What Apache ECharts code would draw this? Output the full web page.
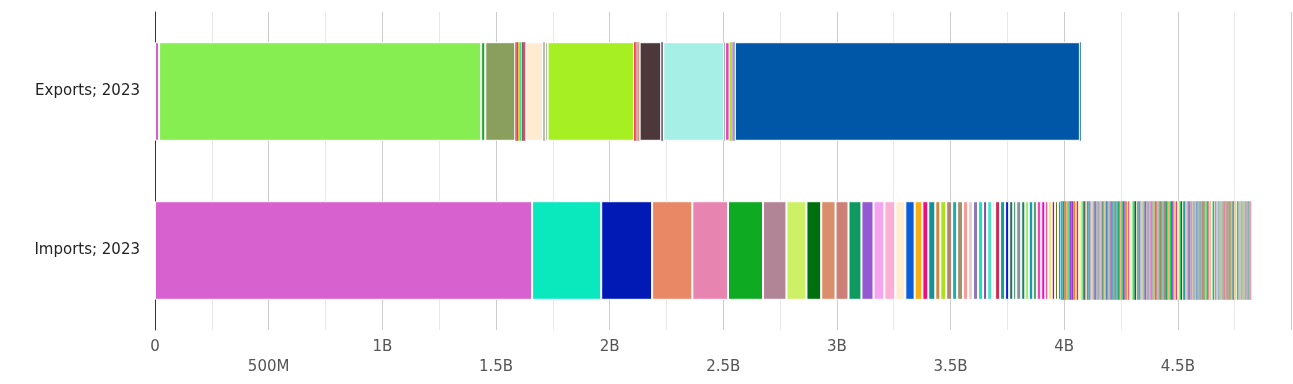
<!DOCTYPE html>
<html>
<head>
<meta charset="utf-8">
<script src="https://cdn.jsdelivr.net/npm/echarts@6/dist/echarts.min.js"></script>
<style>
  html, body { margin: 0; padding: 0; background: #fff; }
  #chart { width: 1293px; height: 384px; }
</style>
</head>
<body>
<div id="chart"></div>
<script>
// categories, top to bottom
var categories = ['Exports; 2023', 'Imports; 2023'];

// exports partners, in stacking order (millions USD)
var exportValues = [18, 1417, 18, 132, 4, 4, 4, 9, 4, 4, 9, 7, 77, 9, 11, 381, 7, 4, 4, 9, 95, 9, 268, 4, 20, 7, 9, 7, 1518, 4];
var exportColors = ['#d762cf', '#87ee52', '#11a71f', '#8a9e5e', '#5b8f97', '#d94a7a', '#2f6fd0', '#f9be27', '#19e0a5', '#f5e050',
  '#8b5d5d', '#d4506a', '#ffebd0', '#b8c2a8', '#777777', '#a6ef23', '#f0203c', '#e87aa0', '#999999', '#d0a080',
  '#4c373a', '#7a6a7a', '#a6efe7', '#a0a0a0', '#e045c0', '#a0e820', '#c5a4e8', '#8a8aa0', '#0057a8', '#1a7a7a'];

// imports partners, largest first (millions USD)
var importValues = [1659, 304, 224, 177, 157, 154, 103, 88, 65, 63, 57, 57, 53, 48, 48, 44, 41, 34, 26, 31,
  22, 26, 26, 22, 26, 22, 22, 22, 22, 18, 22, 13, 22, 22, 18, 18, 13, 22, 18, 15,
  20, 15, 20, 18, 13, 15, 15, 13, 11,
  9, 8, 9, 8, 7, 8, 8, 7, 7, 7, 7, 6, 7, 6, 6, 6, 7, 6, 6, 6, 6, 5, 6, 5, 5,
  7, 6, 6, 5, 7, 6, 5, 6, 6, 5, 7, 6, 6, 5, 6, 6, 5, 6, 7, 5, 6, 6, 5, 6, 6, 5, 6, 6, 5, 6,
  6, 5, 6, 5, 6, 6, 5, 6, 5, 6, 5, 6, 6, 5, 5, 6, 5, 6, 5, 6, 5, 5, 6, 5, 5, 6, 5, 5, 6, 5,
  5, 5, 4, 5, 4, 5, 4, 4, 5, 4, 4, 4, 5, 4, 4, 4, 4, 4, 4, 4, 4, 4, 3, 4, 4, 4, 3, 4, 4, 3,
  4, 3, 4, 3, 3, 4, 3, 3, 3, 4, 3, 3, 3, 3, 3, 3, 3, 3, 3, 3, 2, 3, 3, 2, 3, 3, 2, 3, 2, 3,
  4, 3, 3, 3, 3, 3, 3, 3, 3, 3, 3, 3, 3, 3, 2, 3, 2, 3, 2, 2, 2, 2, 2, 2, 2, 2, 2, 2, 2, 2,
  2, 2, 3, 2, 2, 2, 2, 2, 2, 2, 2, 2, 1, 2, 2, 1, 2, 1, 1, 1, 1, 1, 1, 1, 1, 1, 1, 1];
var importColors = ['#d762cf', '#0ae8be', '#011ab5', '#e88865', '#e884b0', '#0daa22', '#b28596', '#cdf066', '#006f0f', '#d98e6c',
  '#cc8078', '#0e9a60', '#9358d2', '#f5a5f0', '#fbafd5', '#ffecd1', '#0a5fd8', '#f9ae13', '#ee0d79', '#139196',
  '#d3843f', '#abe01f', '#ae8474', '#16aeae', '#9b946d', '#fb9a94', '#efcdca', '#8a76b9', '#0fe6c0', '#83509c',
  '#50e3c1', '#ffecd0', '#cf2b56', '#11a08b', '#0b1ecf', '#2d6e5c', '#137a55', '#8d919b', '#1a7e6d', '#7fe61d',
  '#1699ae', '#117b2e', '#f247ba', '#f00bc2', '#d7107c', '#ffd931', '#a40d89', '#5b6e0c', '#000000'];
// colours for the long tail of small partners
var tailColors = ['#1db1ef', '#19a85d', '#fd7b2f', '#f4a460', '#12e05a', '#a03ee0', '#8b3fd8', '#ff7f0e', '#f6e7c0', '#e3256b',
  '#fdf1c6', '#f5f5b8', '#7ef2a0', '#12c257', '#444444', '#f0e0c8', '#6b8fa8', '#20a5a0', '#c5b6d8', '#f7b6c8',
  '#a8c870', '#9090c0', '#2a9d8f', '#d8a0d0', '#7090a0', '#b0d070', '#e890e0', '#60a080', '#a0a0a0', '#d0c080',
  '#5080c0', '#e07070', '#80c0a0', '#c080c0', '#909060', '#40a0c0', '#88b088', '#b07070'];

function fmtAxis(v) {
  if (v === 0) return '0';
  if (v >= 1e9) return (v / 1e9) + 'B';
  return (v / 1e6) + 'M';
}

// white separators only where the segment is wide enough to keep its colour
function border(v) {
  return v >= 10 ? 1 : 0;
}

var series = [];
exportValues.forEach(function (v, i) {
  series.push({
    type: 'bar', stack: 'total', barCategoryGap: '38%',
    data: [v * 1e6, '-'],
    itemStyle: { color: exportColors[i], borderColor: '#fff', borderWidth: border(v) }
  });
});
importValues.forEach(function (v, i) {
  var c = i < importColors.length ? importColors[i] : tailColors[(i - importColors.length) % tailColors.length];
  series.push({
    type: 'bar', stack: 'total', barCategoryGap: '38%',
    data: ['-', v * 1e6],
    itemStyle: { color: c, borderColor: '#fff', borderWidth: border(v) }
  });
});

var chart = echarts.init(document.getElementById('chart'));
chart.setOption({
  animation: false,
  grid: { left: 155, right: 1.5, top: 12, bottom: 54, containLabel: false },
  xAxis: {
    type: 'value', min: 0, max: 5e9, interval: 5e8,
    axisLine: { show: false },
    axisTick: { show: false },
    splitLine: { show: true, lineStyle: { color: '#cccccc', width: 1 } },
    minorTick: { show: false, splitNumber: 2 },
    minorSplitLine: { show: true, lineStyle: { color: '#e8e8e8', width: 1 } },
    axisLabel: {
      showMaxLabel: false,
      color: '#555', fontSize: 15, fontFamily: 'DejaVu Sans',
      lineHeight: 20, margin: 7,
      formatter: function (v, idx) {
        return idx % 2 ? '\n' + fmtAxis(v) : fmtAxis(v);
      }
    }
  },
  yAxis: {
    type: 'category', inverse: true, data: categories,
    axisLine: { show: true, lineStyle: { color: '#333', width: 1 } },
    axisTick: { show: false },
    axisLabel: { color: '#222', fontSize: 15, fontFamily: 'DejaVu Sans', margin: 15 }
  },
  series: series
});
</script>
</body>
</html>
